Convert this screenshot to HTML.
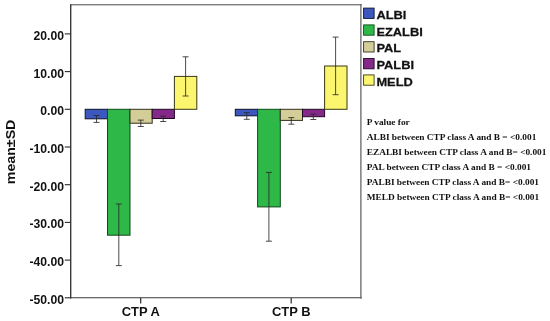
<!DOCTYPE html>
<html><head><meta charset="utf-8"><title>chart</title>
<style>
html,body{margin:0;padding:0;background:#fff;}
body{width:550px;height:321px;overflow:hidden;}
svg{display:block;}
.ax{font-family:"Liberation Sans",Arial,sans-serif;font-weight:bold;font-size:12.2px;fill:#111;}
.lg{font-family:"Liberation Sans",Arial,sans-serif;font-weight:bold;font-size:11.8px;fill:#111;stroke:#111;stroke-width:0.25px;}
.pv{font-family:"Liberation Serif","Times New Roman",serif;font-weight:bold;font-size:8.5px;fill:#111;}
</style></head><body>
<svg width="550" height="321" viewBox="0 0 550 321">
<rect x="0" y="0" width="550" height="321" fill="#ffffff"/>

<rect x="85.2" y="109.3" width="22.3" height="9.5" fill="#3C58BE" stroke="#0e1226" stroke-width="1"/>
<rect x="107.5" y="109.3" width="22.5" height="125.9" fill="#2EB848" stroke="#0e4a1c" stroke-width="1"/>
<rect x="130.0" y="109.3" width="22.2" height="13.9" fill="#D3CE97" stroke="#33311f" stroke-width="1"/>
<rect x="152.2" y="109.3" width="22.2" height="9.2" fill="#84298A" stroke="#200822" stroke-width="1"/>
<rect x="174.4" y="76.4" width="22.4" height="32.9" fill="#FBF66E" stroke="#3a3818" stroke-width="1"/>
<path d="M96.5 115.5V122.4M93.5 115.5H99.5M93.5 122.4H99.5" stroke="#2a2a2a" stroke-width="0.85" fill="none"/>
<path d="M118.8 204.0V265.6M115.8 204.0H121.8M115.8 265.6H121.8" stroke="#2a2a2a" stroke-width="0.85" fill="none"/>
<path d="M140.8 120.1V126.5M137.8 120.1H143.8M137.8 126.5H143.8" stroke="#2a2a2a" stroke-width="0.85" fill="none"/>
<path d="M163.2 116.2V121.5M160.2 116.2H166.2M160.2 121.5H166.2" stroke="#2a2a2a" stroke-width="0.85" fill="none"/>
<path d="M185.6 56.8V96.0M182.6 56.8H188.6M182.6 96.0H188.6" stroke="#2a2a2a" stroke-width="0.85" fill="none"/>
<rect x="235.3" y="109.3" width="22.3" height="6.5" fill="#3C58BE" stroke="#0e1226" stroke-width="1"/>
<rect x="257.6" y="109.3" width="22.7" height="97.6" fill="#2EB848" stroke="#0e4a1c" stroke-width="1"/>
<rect x="280.3" y="109.3" width="22.2" height="11.1" fill="#D3CE97" stroke="#33311f" stroke-width="1"/>
<rect x="302.5" y="109.3" width="22.1" height="7.4" fill="#84298A" stroke="#200822" stroke-width="1"/>
<rect x="324.6" y="66.0" width="22.4" height="43.3" fill="#FBF66E" stroke="#3a3818" stroke-width="1"/>
<path d="M246.8 112.7V119.3M243.8 112.7H249.8M243.8 119.3H249.8" stroke="#2a2a2a" stroke-width="0.85" fill="none"/>
<path d="M268.9 172.4V241.2M265.9 172.4H271.9M265.9 241.2H271.9" stroke="#2a2a2a" stroke-width="0.85" fill="none"/>
<path d="M291.3 117.6V124.2M288.3 117.6H294.3M288.3 124.2H294.3" stroke="#2a2a2a" stroke-width="0.85" fill="none"/>
<path d="M313.3 114.2V119.5M310.3 114.2H316.3M310.3 119.5H316.3" stroke="#2a2a2a" stroke-width="0.85" fill="none"/>
<path d="M335.6 37.1V94.7M332.6 37.1H338.6M332.6 94.7H338.6" stroke="#2a2a2a" stroke-width="0.85" fill="none"/>
<path d="M70.7 4.3V298.4" stroke="#3a3a3a" stroke-width="1.4"/>
<path d="M70 297.8H361.8" stroke="#3a3a3a" stroke-width="1.1"/>
<path d="M70 4.8H361.8" stroke="#4a4a4a" stroke-width="1"/>
<path d="M360.9 4.3V298.4" stroke="#5a5a5a" stroke-width="1.2"/>
<path d="M64.8 33.9H70.5" stroke="#2a2a2a" stroke-width="1.1"/>
<text class="ax" x="64" y="39.9" text-anchor="end">20.00</text>
<path d="M64.8 71.6H70.5" stroke="#2a2a2a" stroke-width="1.1"/>
<text class="ax" x="64" y="77.6" text-anchor="end">10.00</text>
<path d="M64.8 109.3H70.5" stroke="#2a2a2a" stroke-width="1.1"/>
<text class="ax" x="64" y="115.3" text-anchor="end">0.00</text>
<path d="M64.8 147.0H70.5" stroke="#2a2a2a" stroke-width="1.1"/>
<text class="ax" x="64" y="153.0" text-anchor="end">-10.00</text>
<path d="M64.8 184.7H70.5" stroke="#2a2a2a" stroke-width="1.1"/>
<text class="ax" x="64" y="190.7" text-anchor="end">-20.00</text>
<path d="M64.8 222.4H70.5" stroke="#2a2a2a" stroke-width="1.1"/>
<text class="ax" x="64" y="228.4" text-anchor="end">-30.00</text>
<path d="M64.8 260.1H70.5" stroke="#2a2a2a" stroke-width="1.1"/>
<text class="ax" x="64" y="266.1" text-anchor="end">-40.00</text>
<path d="M64.8 297.8H70.5" stroke="#2a2a2a" stroke-width="1.1"/>
<text class="ax" x="64" y="303.8" text-anchor="end">-50.00</text>
<path d="M140.7 298V303.6" stroke="#2a2a2a" stroke-width="1.2"/>
<text class="ax" style="font-size:12.3px" transform="translate(140.7,315.7) scale(1.05,1)" text-anchor="middle">CTP A</text>
<path d="M291.2 298V303.6" stroke="#2a2a2a" stroke-width="1.2"/>
<text class="ax" style="font-size:12.3px" transform="translate(291.2,315.7) scale(1.05,1)" text-anchor="middle">CTP B</text>
<text class="ax" style="font-size:12.8px" transform="translate(15.4,151.9) rotate(-90) scale(1.107,1)" text-anchor="middle">mean±SD</text>
<rect x="363.6" y="8.1" width="10.5" height="10.3" fill="#3C58BE" stroke="#0e1226" stroke-width="0.9"/>
<text class="lg" transform="translate(376.4,18.8) scale(1.09,1)">ALBI</text>
<rect x="363.6" y="24.9" width="10.5" height="10.3" fill="#2EB848" stroke="#0e4a1c" stroke-width="0.9"/>
<text class="lg" transform="translate(376.4,35.6) scale(1.09,1)">EZALBI</text>
<rect x="363.6" y="41.7" width="10.5" height="10.3" fill="#D3CE97" stroke="#33311f" stroke-width="0.9"/>
<text class="lg" transform="translate(376.4,52.4) scale(1.09,1)">PAL</text>
<rect x="363.6" y="58.5" width="10.5" height="10.3" fill="#84298A" stroke="#200822" stroke-width="0.9"/>
<text class="lg" transform="translate(376.4,69.2) scale(1.09,1)">PALBI</text>
<rect x="363.6" y="74.9" width="10.5" height="10.3" fill="#FBF66E" stroke="#3a3818" stroke-width="0.9"/>
<text class="lg" transform="translate(376.4,85.6) scale(1.09,1)">MELD</text>
<text class="pv" transform="translate(366.7,124.5) scale(1.10,1)">P value for</text>
<text class="pv" transform="translate(366.7,139.6) scale(1.10,1)">ALBI between CTP class A and B = &lt;0.001</text>
<text class="pv" transform="translate(366.7,154.5) scale(1.10,1)">EZALBI between CTP class A and B= &lt;0.001</text>
<text class="pv" transform="translate(366.7,169.5) scale(1.10,1)">PAL between CTP class A and B = &lt;0.001</text>
<text class="pv" transform="translate(366.7,184.7) scale(1.10,1)">PALBI between CTP class A and B= &lt;0.001</text>
<text class="pv" transform="translate(366.7,199.8) scale(1.10,1)">MELD between CTP class A and B= &lt;0.001</text>
</svg></body></html>
